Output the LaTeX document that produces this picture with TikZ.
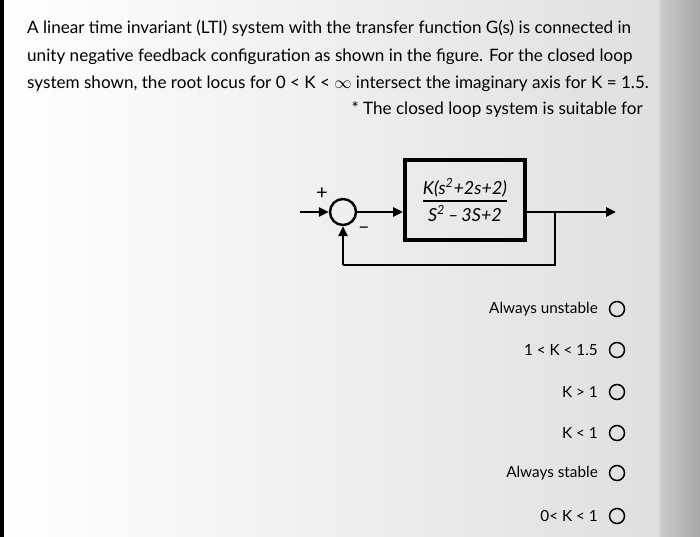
\documentclass[tikz,border=0pt]{standalone}
\usepackage{fontspec}
\setmainfont{Lato}
\usetikzlibrary{arrows.meta}
\begin{document}
\begin{tikzpicture}[x=1pt,y=-1pt,
  txt/.style={anchor=west,inner sep=0,font=\fontsize{17.1}{20}\selectfont},
  opt/.style={anchor=east,inner sep=0,font=\fontsize{15.3}{17}\selectfont},
  radio/.style={circle,draw,line width=1.5pt,minimum size=15pt,inner sep=0},
  wire/.style={line width=2.8pt},
  arr/.style={wire,-{Triangle[length=10pt,width=9pt]}}]
\useasboundingbox (0,0) rectangle (700,537);
\shade[left color=white,right color=gray!25] (0,0) rectangle (660,537);
\shade[left color=gray!40,right color=gray!70] (660,0) rectangle (700,537);
\fill[black] (0,0) rectangle (4,537);
\node[txt] (l1) at (27,28) {A linear time invariant (LTI) system with the transfer function G(s) is connected in};
\node[txt] (l2) at (27,57) {unity negative feedback configuration as shown in the figure. For the closed loop};
\node[txt] (l3) at (27,84) {system shown, the root locus for 0 < K < $\infty$ intersect the imaginary axis for K = 1.5.};
\node[txt,anchor=east] (l4) at (643,110) {* The closed loop system is suitable for};
% block diagram
\node[draw,line width=4pt,minimum width=120pt,minimum height=80pt,font=\fontsize{18}{20}\selectfont\itshape] (G) at (465,200)
  {$\vcenter{\halign{\hfil#\hfil\cr K(s\textsuperscript{2}+2s+2)\cr\noalign{\kern3pt\hrule height 1.8pt\kern4pt} S\textsuperscript{2}\,–\,3S+2\cr}}$};
\node[circle,draw,line width=2.4pt,minimum size=26pt,inner sep=0] (sum) at (343,212) {};
\coordinate (in) at (300,212);
\coordinate (out) at (616,212);
\coordinate (br) at (555,212);
\coordinate (bd) at (555,265);
\coordinate (bl) at (343,265);
\draw[arr] (in) -- (sum.west);
\draw[arr] (sum.east) -- (G.west |- sum.east);
\draw[arr] (G.east |- br) -- (out);
\draw[wire] (br) -- (bd) -- (bl);
\draw[arr] (bl) -- (sum.south);
\node[font=\fontsize{20}{22}\selectfont] (plus) at (322,194) {+};
\node[font=\fontsize{20}{22}\selectfont] (minus) at (364,230) {–};
% options
\foreach \t/\y [count=\i] in {Always unstable/309,{1 < K < 1.5}/350,{K > 1}/392,{K < 1}/433,Always stable/473,{0< K < 1}/516}{
  \node[opt] (o\i) at (598,\y) {\t};
  \node[radio] (r\i) at (617,\y) {};
}
\end{tikzpicture}
\end{document}
